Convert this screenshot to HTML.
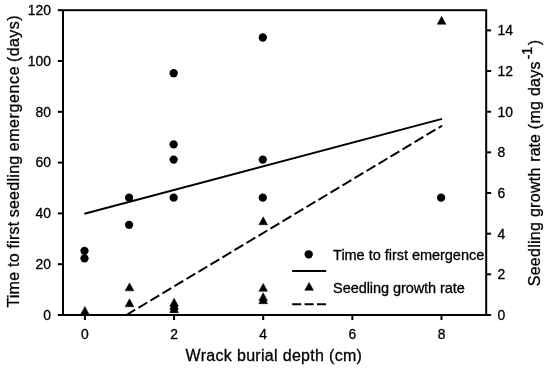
<!DOCTYPE html><html><head><meta charset="utf-8"><title>Wrack burial depth</title><style>html,body{margin:0;padding:0;background:#fff}svg{display:block}text{font-family:"Liberation Sans",sans-serif;fill:#000;stroke:#000;stroke-width:0.3px}</style></head><body>
<svg width="550" height="369" viewBox="0 0 550 369">
<rect width="550" height="369" fill="#fff"/>
<g stroke="#000" stroke-width="2" fill="none">
<rect x="63.0" y="10.2" width="423.20" height="304.80"/>
<line x1="57.8" y1="315.00" x2="63.0" y2="315.00"/>
<line x1="57.8" y1="264.20" x2="63.0" y2="264.20"/>
<line x1="57.8" y1="213.40" x2="63.0" y2="213.40"/>
<line x1="57.8" y1="162.60" x2="63.0" y2="162.60"/>
<line x1="57.8" y1="111.80" x2="63.0" y2="111.80"/>
<line x1="57.8" y1="61.00" x2="63.0" y2="61.00"/>
<line x1="57.8" y1="10.20" x2="63.0" y2="10.20"/>
<line x1="486.2" y1="315.00" x2="491.1" y2="315.00"/>
<line x1="486.2" y1="274.34" x2="491.1" y2="274.34"/>
<line x1="486.2" y1="233.68" x2="491.1" y2="233.68"/>
<line x1="486.2" y1="193.02" x2="491.1" y2="193.02"/>
<line x1="486.2" y1="152.36" x2="491.1" y2="152.36"/>
<line x1="486.2" y1="111.70" x2="491.1" y2="111.70"/>
<line x1="486.2" y1="71.04" x2="491.1" y2="71.04"/>
<line x1="486.2" y1="30.38" x2="491.1" y2="30.38"/>
<line x1="84.90" y1="315.0" x2="84.90" y2="320"/>
<line x1="174.05" y1="315.0" x2="174.05" y2="320"/>
<line x1="263.20" y1="315.0" x2="263.20" y2="320"/>
<line x1="352.35" y1="315.0" x2="352.35" y2="320"/>
<line x1="441.50" y1="315.0" x2="441.50" y2="320"/>
</g>
<g font-size="13.9">
<text x="50.9" y="319.70" text-anchor="end">0</text>
<text x="50.9" y="268.90" text-anchor="end">20</text>
<text x="50.9" y="218.10" text-anchor="end">40</text>
<text x="50.9" y="167.30" text-anchor="end">60</text>
<text x="50.9" y="116.50" text-anchor="end">80</text>
<text x="50.9" y="65.70" text-anchor="end">100</text>
<text x="50.9" y="14.90" text-anchor="end">120</text>
<text x="497.5" y="320.10">0</text>
<text x="497.5" y="279.44">2</text>
<text x="497.5" y="238.78">4</text>
<text x="497.5" y="198.12">6</text>
<text x="497.5" y="157.46">8</text>
<text x="497.5" y="116.80">10</text>
<text x="497.5" y="76.14">12</text>
<text x="497.5" y="35.48">14</text>
<text x="84.90" y="339.3" text-anchor="middle">0</text>
<text x="174.05" y="339.3" text-anchor="middle">2</text>
<text x="263.20" y="339.3" text-anchor="middle">4</text>
<text x="352.35" y="339.3" text-anchor="middle">6</text>
<text x="441.50" y="339.3" text-anchor="middle">8</text>
</g>
<line x1="84.4" y1="213.8" x2="442" y2="118.9" stroke="#000" stroke-width="2"/>
<line x1="126.4" y1="315" x2="442.2" y2="125.6" stroke="#000" stroke-width="2" stroke-dasharray="10.3 3.7"/>
<circle cx="84.50" cy="250.87" r="4.15"/>
<circle cx="84.50" cy="258.37" r="4.15"/>
<circle cx="129.08" cy="197.66" r="4.15"/>
<circle cx="129.08" cy="224.84" r="4.15"/>
<circle cx="173.65" cy="73.20" r="4.15"/>
<circle cx="173.65" cy="144.32" r="4.15"/>
<circle cx="173.65" cy="159.56" r="4.15"/>
<circle cx="173.65" cy="197.66" r="4.15"/>
<circle cx="262.80" cy="37.51" r="4.15"/>
<circle cx="262.80" cy="159.56" r="4.15"/>
<circle cx="262.80" cy="197.66" r="4.15"/>
<circle cx="441.10" cy="197.66" r="4.15"/>
<polygon points="84.90,306.50 80.55,314.45 89.25,314.45" stroke="#000" stroke-width="0.5" stroke-linejoin="round"/>
<polygon points="129.50,282.90 125.15,290.85 133.85,290.85" stroke="#000" stroke-width="0.5" stroke-linejoin="round"/>
<polygon points="129.50,298.80 125.15,306.75 133.85,306.75" stroke="#000" stroke-width="0.5" stroke-linejoin="round"/>
<polygon points="174.10,298.20 169.75,306.15 178.45,306.15" stroke="#000" stroke-width="0.5" stroke-linejoin="round"/>
<polygon points="174.10,301.50 169.75,309.45 178.45,309.45" stroke="#000" stroke-width="0.5" stroke-linejoin="round"/>
<polygon points="174.10,304.70 169.75,312.65 178.45,312.65" stroke="#000" stroke-width="0.5" stroke-linejoin="round"/>
<polygon points="263.20,216.80 258.85,224.75 267.55,224.75" stroke="#000" stroke-width="0.5" stroke-linejoin="round"/>
<polygon points="263.20,283.40 258.85,291.35 267.55,291.35" stroke="#000" stroke-width="0.5" stroke-linejoin="round"/>
<polygon points="263.20,292.70 258.85,300.65 267.55,300.65" stroke="#000" stroke-width="0.5" stroke-linejoin="round"/>
<polygon points="263.20,295.70 258.85,303.65 267.55,303.65" stroke="#000" stroke-width="0.5" stroke-linejoin="round"/>
<polygon points="441.60,16.30 437.25,24.25 445.95,24.25" stroke="#000" stroke-width="0.5" stroke-linejoin="round"/>
<rect x="170.7" y="304.6" width="6.8" height="8"/>
<circle cx="308.7" cy="254.3" r="4.15"/>
<line x1="292.2" y1="271.1" x2="326.2" y2="271.1" stroke="#000" stroke-width="2"/>
<polygon points="309.10,282.40 304.75,290.35 313.45,290.35" stroke="#000" stroke-width="0.5" stroke-linejoin="round"/>
<line x1="292.2" y1="304.2" x2="326.2" y2="304.2" stroke="#000" stroke-width="2" stroke-dasharray="9 3.4"/>
<text x="333.1" y="259.7" font-size="14.5" letter-spacing="-0.03">Time to first emergence</text>
<text x="333.1" y="292.8" font-size="14.5" letter-spacing="-0.07">Seedling growth rate</text>
<text x="185.6" y="360.6" font-size="16" letter-spacing="0.31">Wrack burial depth (cm)</text>
<text transform="translate(19.3,307.6) rotate(-90)" font-size="16" letter-spacing="0.23">Time to first <tspan dx="-0.4" letter-spacing="0.29">seedling</tspan> <tspan dx="-0.55" letter-spacing="0.6">emergence</tspan> <tspan x="245.5" letter-spacing="0.45">(days)</tspan></text>
<text transform="translate(540.4,286.3) rotate(-90)" font-size="16" letter-spacing="0.28">Seedling growth <tspan dx="0.9" letter-spacing="0.06">rate</tspan> (mg days<tspan x="226.8" y="-7.1" font-size="15">-</tspan><tspan x="231.3" y="-8.2" font-size="15">1</tspan><tspan x="241.1" y="0">)</tspan></text>
</svg></body></html>
